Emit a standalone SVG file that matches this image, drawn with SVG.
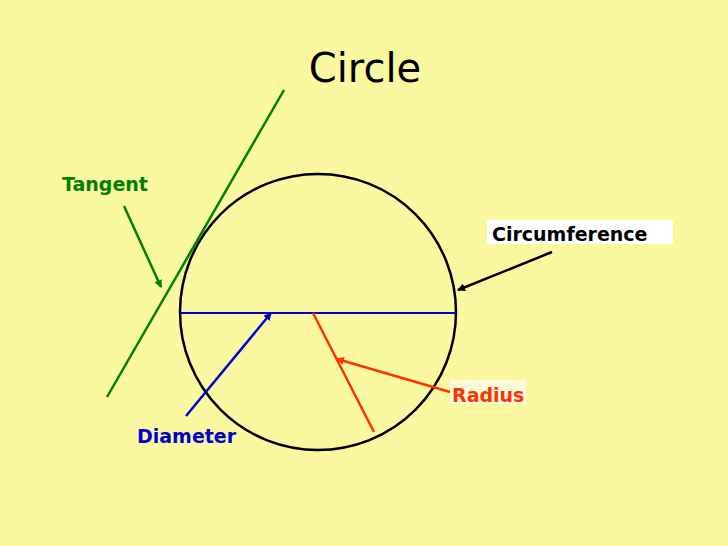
<svg xmlns="http://www.w3.org/2000/svg" width="728" height="546" viewBox="0 0 728 546">
<style>
text{font-family:"DejaVu Sans",sans-serif;font-weight:bold;font-size:19px}
.ln{stroke-width:2.5;fill:none}
</style>
<defs>
<marker id="ag" markerWidth="8" markerHeight="8" refX="7" refY="4" orient="auto" markerUnits="userSpaceOnUse"><path d="M0,0L8,4L0,8z" fill="#008000"/></marker>
<marker id="ab" markerWidth="8" markerHeight="8" refX="7" refY="4" orient="auto" markerUnits="userSpaceOnUse"><path d="M0,0L8,4L0,8z" fill="#0000CC"/></marker>
<marker id="ar" markerWidth="8" markerHeight="8" refX="7" refY="4" orient="auto" markerUnits="userSpaceOnUse"><path d="M0,0L8,4L0,8z" fill="#FF3300"/></marker>
<marker id="ak" markerWidth="8" markerHeight="8" refX="7" refY="4" orient="auto" markerUnits="userSpaceOnUse"><path d="M0,0L8,4L0,8z" fill="#000"/></marker>
</defs>
<rect width="728" height="546" fill="#FBF8A2"/>
<text x="365" y="82" text-anchor="middle" style="font-size:40px;font-weight:normal">Circle</text>
<g id="circle"><circle cx="318" cy="312" r="138" fill="none" stroke="#000" stroke-width="2.5"/></g>
<g id="connectors">
<line class="ln" x1="284" y1="90" x2="107" y2="397" stroke="#008000"/>
<line class="ln" x1="180" y1="313" x2="456" y2="313" stroke="#0000CC" style="stroke-width:2"/>
<line class="ln" x1="313" y1="313" x2="374" y2="432" stroke="#FF3300"/>
<line class="ln" x1="124" y1="206" x2="161" y2="287" stroke="#008000" marker-end="url(#ag)"/>
<line class="ln" x1="186" y1="416" x2="271" y2="313" stroke="#0000CC" marker-end="url(#ab)"/>
<line class="ln" x1="450" y1="392" x2="337" y2="359" stroke="#FF3300" marker-end="url(#ar)"/>
<line class="ln" x1="552" y1="252" x2="458" y2="290" stroke="#000" marker-end="url(#ak)"/>
</g>
<g id="tangent"><text x="62" y="191" fill="#008000">Tangent</text></g>
<g id="circumference"><rect x="487" y="220" width="186" height="24" fill="#fff"/><text x="492" y="241" fill="#000">Circumference</text></g>
<g id="radius"><rect x="450" y="380" width="76" height="24" fill="#fff" opacity="0.6"/><text x="452" y="402" fill="#FF3300">Radius</text></g>
<g id="diameter"><text x="137" y="443" fill="#0000CC">Diameter</text></g>
</svg>
